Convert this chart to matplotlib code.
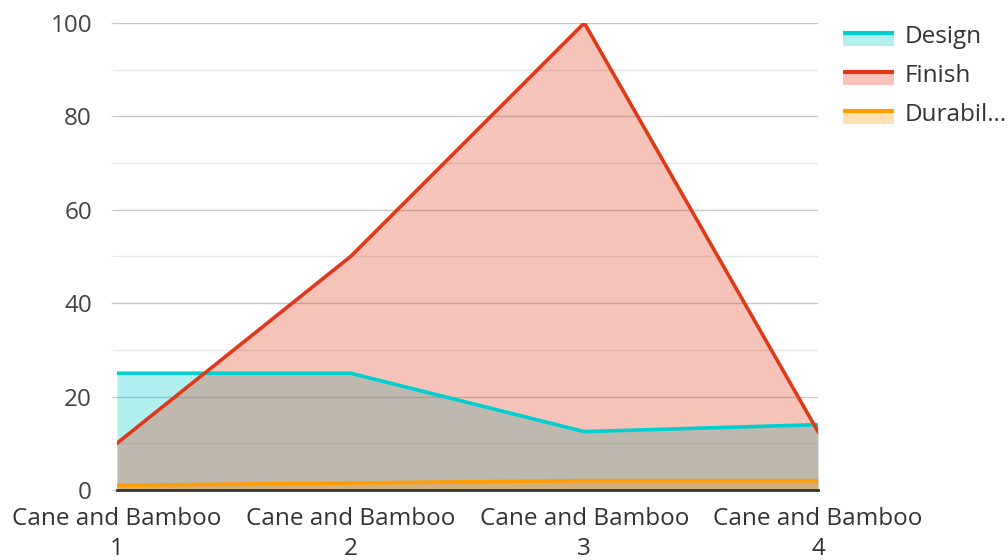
import matplotlib
matplotlib.use("Agg")
import matplotlib.pyplot as plt
from matplotlib.legend_handler import HandlerBase
from matplotlib.patches import Rectangle
from matplotlib.lines import Line2D

plt.rcParams['font.family'] = ['Open Sans', 'DejaVu Sans']

# data
categories = ["Cane and Bamboo\n1", "Cane and Bamboo\n2", "Cane and Bamboo\n3", "Cane and Bamboo\n4"]
design = [25, 25, 12.5, 14]
finish = [10, 50, 100, 12.5]
durability = [1, 1.5, 2, 2]

series = [
    ("Design", design, "#00cfd0"),
    ("Finish", finish, "#e0391a"),
    ("Durabil\u2026", durability, "#ff9c00"),
]


# legend entry: thick line on top of a pale filled box
class AreaHandler(HandlerBase):
    def create_artists(self, legend, orig_handle, xdescent, ydescent,
                       width, height, fontsize, trans):
        c = orig_handle.get_color()
        top = 0.55 * height - ydescent
        box = Rectangle((-xdescent, top - 0.7 * height), width, 0.7 * height,
                        facecolor=c, alpha=0.3, edgecolor="none", transform=trans)
        line = Line2D([-xdescent, -xdescent + width], [top, top],
                      color=c, lw=3, solid_capstyle="butt", transform=trans)
        return [box, line]


fig = plt.figure(figsize=(10.08, 5.6), dpi=100)
ax = fig.add_axes([0.116, 0.125, 0.6955, 0.834])

x = list(range(len(categories)))
handles = []
for name, vals, col in series:
    ax.fill_between(x, 0, vals, color=col, alpha=0.3, linewidth=0)
    ln, = ax.plot(x, vals, color=col, lw=2.6, label=name, solid_joinstyle="miter")
    handles.append(ln)

ax.set_xlim(0, 3)
ax.set_ylim(0, 100)
ax.set_xticks(x)
ax.set_xticklabels(categories, fontsize=17.5, color="#333333", linespacing=1.35)
ax.set_yticks(range(0, 101, 20))
ax.set_yticks(range(10, 100, 20), minor=True)
ax.tick_params(axis="y", which="major", labelsize=17.5, labelcolor="#444444",
               length=4, color="#c8c8c8", pad=14)
ax.tick_params(axis="y", which="minor", length=4, color="#e6e6e6")
ax.tick_params(axis="x", length=0, pad=12)
ax.grid(axis="y", which="major", color="#c8c8c8", lw=1)
ax.grid(axis="y", which="minor", color="#e6e6e6", lw=1)
ax.set_axisbelow(True)
for s in ["top", "right", "left"]:
    ax.spines[s].set_visible(False)
ax.spines["bottom"].set_color("#333333")
ax.spines["bottom"].set_linewidth(2)
ax.spines["bottom"].set_zorder(5)

fig.legend(handles=handles, labels=[s[0] for s in series],
           handler_map={Line2D: AreaHandler()},
           loc="upper left", bbox_to_anchor=(0.815, 0.995), frameon=False,
           fontsize=17.5, labelcolor="#333333", handlelength=2.1, handleheight=0.8,
           handletextpad=0.4, labelspacing=0.62)

fig.savefig("out.png", dpi=100)
